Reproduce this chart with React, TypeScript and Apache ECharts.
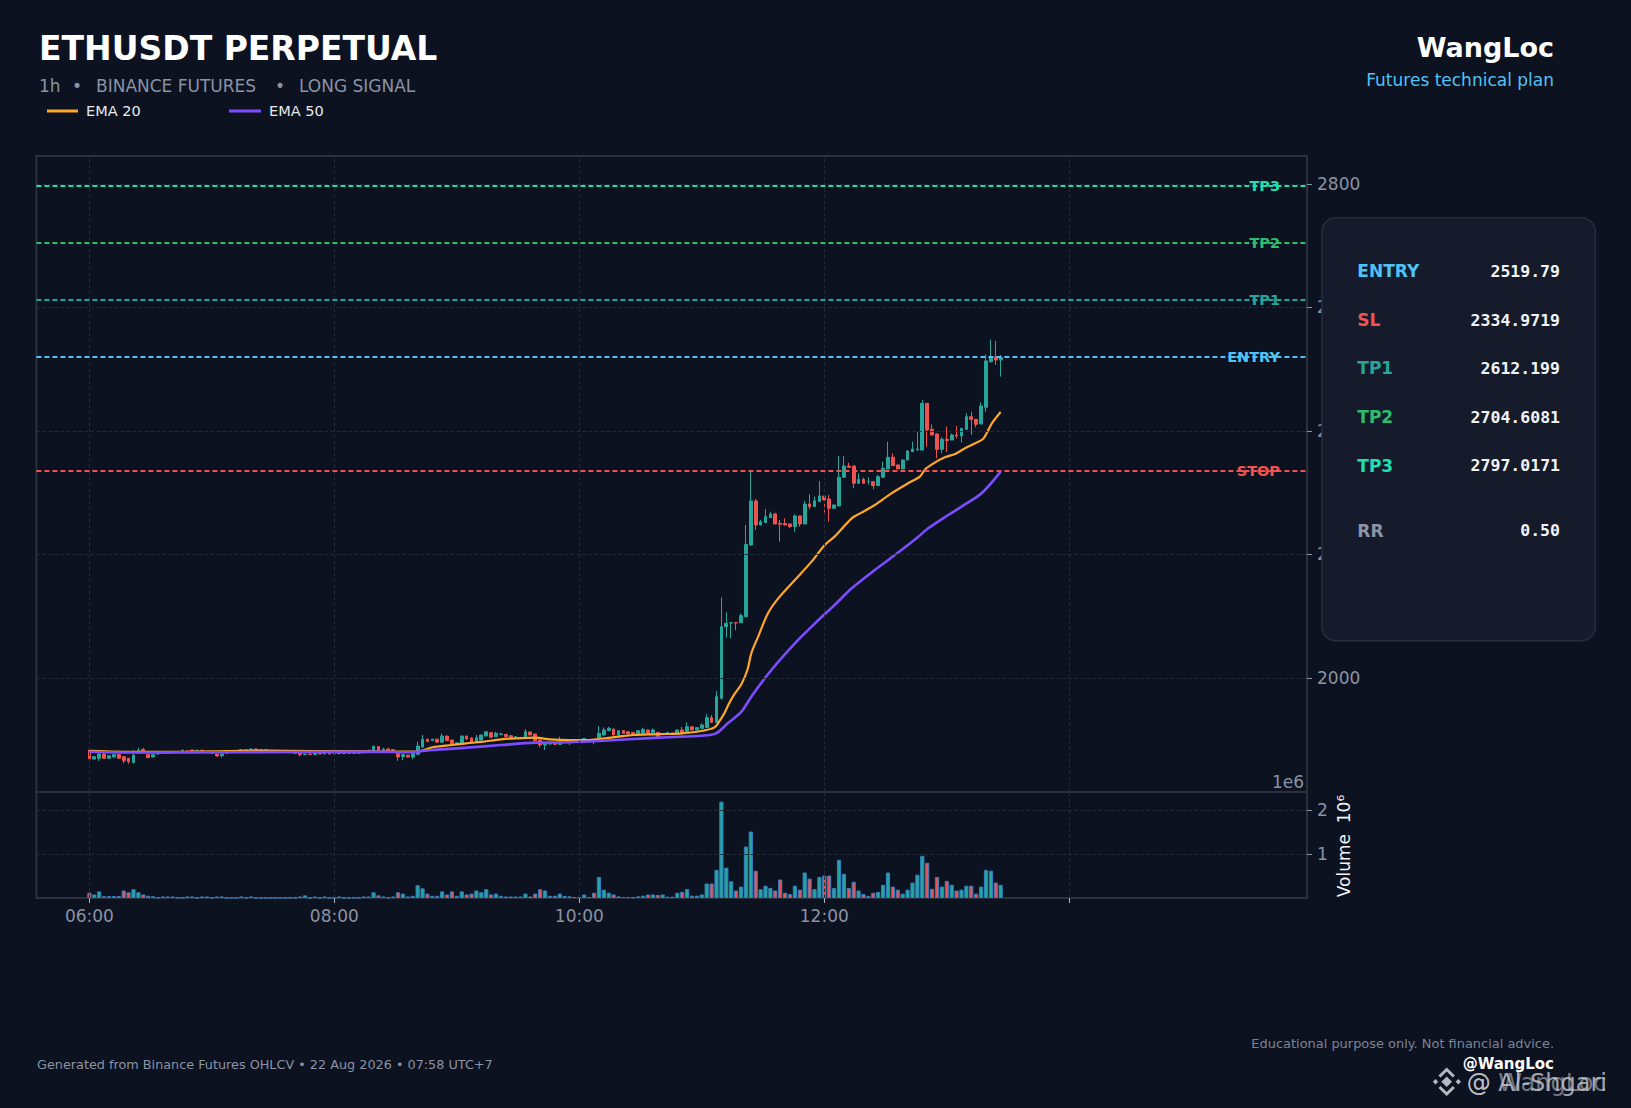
import React, { useEffect, useRef } from 'react';
import * as echarts from 'echarts';

// ---------- DATA ----------
// candles are 2.4 minutes apart starting at 06:00 (x axis in hours)
const START_HOUR = 6;
const STEP_HOURS = 0.04;

const opens = [
  1883.4, 1868.8, 1870, 1877, 1870, 1872, 1876, 1872.6, 1870, 1863,
  1878, 1884, 1876, 1872, 1877, 1879, 1878, 1879, 1880, 1880,
  1882, 1883.4, 1881, 1883, 1881, 1880, 1877, 1874, 1878, 1880,
  1881, 1882, 1884, 1883, 1885, 1883, 1884, 1882, 1883, 1881,
  1881, 1880, 1879, 1878, 1876, 1877, 1876, 1878, 1877, 1878,
  1877, 1878, 1877.5, 1878, 1879, 1878, 1879, 1881, 1883, 1889,
  1883, 1885, 1884, 1878, 1872.6, 1875, 1872, 1876.4, 1888, 1901,
  1898.5, 1901, 1896, 1906, 1899.6, 1893, 1894, 1906, 1903, 1897,
  1899.6, 1906, 1911.5, 1905, 1908.6, 1908.8, 1906.6, 1904.5, 1903.5, 1905,
  1912.6, 1909.4, 1899.6, 1891.5, 1893, 1895.3, 1892.6, 1898, 1897.5, 1897,
  1898.5, 1898.5, 1899.6, 1899.6, 1902.3, 1907.7, 1914.7, 1917.4, 1907.7, 1914.7,
  1913, 1912, 1909.4, 1910.4, 1915.8, 1911.5, 1912, 1908.5, 1911.6, 1910.6,
  1910.4, 1915.8, 1913, 1921, 1915.8, 1918.5, 1920, 1935.8, 1928.2, 1967.1,
  2083.1, 2089, 2089.6, 2089.6, 2099.3, 2215.4, 2286.7, 2247.8, 2251.6, 2259.7,
  2265.6, 2250.5, 2250.5, 2249.4, 2245.1, 2262.4, 2249.4, 2281.8, 2277.5, 2285.6,
  2294.7, 2289.9, 2274.8, 2278.6, 2325, 2343.3, 2343.3, 2315.3, 2321.7, 2318,
  2318, 2311.5, 2325, 2338.5, 2357.4, 2345, 2338.5, 2353, 2366.5, 2369.2,
  2369.2, 2444.8, 2402.7, 2395.1, 2370.3, 2386.5, 2385.4, 2393.5, 2391.9, 2402.7,
  2423.2, 2418.9, 2411.4, 2438.4, 2512, 2520, 2515,
];

const closes = [
  1868.8, 1872.6, 1877, 1870, 1874, 1876, 1870, 1866, 1864.5, 1875,
  1883, 1879, 1871, 1876, 1879, 1878, 1879, 1880, 1879, 1883,
  1881, 1880.7, 1883, 1881, 1880, 1878, 1873.7, 1877, 1880, 1881,
  1882, 1884, 1883, 1885, 1883, 1884, 1882, 1883, 1881, 1881.5,
  1880, 1879, 1878, 1876, 1877, 1876, 1878, 1877, 1878, 1877,
  1878, 1877.5, 1878, 1879, 1878, 1879, 1881, 1883, 1889, 1883,
  1885, 1883, 1883, 1872, 1876, 1872, 1878, 1889.9, 1901, 1897,
  1901, 1896, 1906, 1898.5, 1892.6, 1895, 1906, 1901, 1896, 1903.4,
  1907.7, 1913, 1904, 1910.4, 1909.4, 1905, 1902.3, 1905, 1903, 1913,
  1907.7, 1898.5, 1891.5, 1895.3, 1896, 1892.6, 1899.6, 1898.8, 1897, 1897.3,
  1898.2, 1902, 1899.9, 1897, 1910.4, 1915.8, 1918.5, 1907.7, 1914.7, 1910.4,
  1909.4, 1908.8, 1914.7, 1916.9, 1910.4, 1915.8, 1905, 1908.8, 1912, 1910.4,
  1915.8, 1911.5, 1921, 1915.8, 1919.6, 1924, 1935.8, 1928.2, 1969.8, 2083.1,
  2088.5, 2089.6, 2089.2, 2101, 2216.5, 2286.7, 2247.8, 2253.2, 2261.3, 2265.6,
  2249.4, 2248.9, 2247.8, 2245.1, 2262.4, 2249.4, 2281.8, 2277.5, 2287.2, 2294.7,
  2288.3, 2274.8, 2280.2, 2325, 2343.3, 2341.2, 2315.3, 2321.7, 2315.3, 2318.5,
  2311.5, 2326, 2339.6, 2357.4, 2343.9, 2338.5, 2353, 2367.6, 2370.9, 2370.9,
  2444.8, 2401.6, 2393.5, 2370.3, 2386.5, 2384.4, 2393.5, 2391.9, 2404.3, 2423.2,
  2418.9, 2410.8, 2440.5, 2513.4, 2520, 2515, 2519,
];

const highs = [
  1884, 1873.5, 1878, 1877.5, 1874.5, 1876.5, 1876.5, 1873, 1870.5, 1883,
  1887, 1887, 1876.5, 1876.5, 1880, 1879.5, 1879.5, 1880.5, 1880.5, 1884,
  1882.5, 1884, 1883.5, 1883.5, 1881.5, 1880.5, 1877.5, 1877.5, 1880.5, 1881.5,
  1882.5, 1884.5, 1884.5, 1886, 1885.5, 1884.5, 1884.5, 1883.5, 1883.5, 1882,
  1881.5, 1880.5, 1879.5, 1878.5, 1877.5, 1877.5, 1878.5, 1878.5, 1878.5, 1878.5,
  1878.5, 1878.5, 1878.5, 1879.5, 1879.5, 1879.5, 1881.5, 1883.5, 1891, 1889.5,
  1887, 1887, 1884.5, 1878.5, 1876.5, 1875.5, 1878.5, 1896.9, 1907.7, 1901.5,
  1901.5, 1901.5, 1910, 1906.5, 1900, 1895.5, 1906.5, 1906.5, 1903.5, 1907.7,
  1908, 1913.5, 1912, 1913, 1911.5, 1909.3, 1907, 1905.5, 1904, 1917.5,
  1913, 1909.8, 1900, 1895.8, 1896.5, 1895.8, 1905, 1899.3, 1898, 1897.8,
  1899, 1902.5, 1900.4, 1900, 1922.3, 1920, 1921, 1917.9, 1915.2, 1915.2,
  1913.5, 1912.5, 1915.2, 1919.6, 1916.3, 1918.5, 1912.5, 1909.3, 1912.5, 1911,
  1916.3, 1921, 1928.2, 1921.5, 1920.1, 1926.6, 1941.7, 1940, 1979, 2130.6,
  2106.4, 2091, 2090.5, 2104.7, 2247.8, 2336.9, 2290, 2256, 2273.7, 2269.4,
  2267.5, 2255.9, 2258.6, 2250, 2265, 2263, 2287.2, 2297.4, 2293.7, 2319,
  2295.5, 2296.4, 2281, 2359.5, 2359.5, 2348.7, 2344, 2331.5, 2324.5, 2325,
  2318.5, 2329, 2350.3, 2382.7, 2363.8, 2345.5, 2353.5, 2369.2, 2382.7, 2397.9,
  2450.2, 2445.3, 2410.8, 2395.6, 2390, 2407, 2396, 2408.1, 2404.8, 2428.6,
  2431.3, 2419.4, 2446.4, 2524, 2548, 2546, 2523,
];

const lows = [
  1868, 1868, 1866, 1869.5, 1869.5, 1871.5, 1869.5, 1862, 1861, 1862.5,
  1877.5, 1878.5, 1870.5, 1871.5, 1876, 1877.5, 1877.5, 1878.5, 1878.5, 1879.5,
  1880.5, 1880, 1880.5, 1880.5, 1879.5, 1877.5, 1873, 1871, 1877.5, 1879.5,
  1880.5, 1881.5, 1882.5, 1882.5, 1882.5, 1882.5, 1881.5, 1881.5, 1880.5, 1880.5,
  1879.5, 1878.5, 1877.5, 1873, 1875.5, 1875.5, 1875.5, 1876.5, 1876.5, 1876.5,
  1876.5, 1877, 1877, 1877.5, 1877.5, 1877.5, 1878.5, 1880.5, 1882.5, 1882.5,
  1882.5, 1882.5, 1882, 1866, 1867, 1871.5, 1869, 1876, 1887.5, 1896.5,
  1898, 1895.5, 1895.5, 1898, 1892, 1892.5, 1893.5, 1900.5, 1895.5, 1896.5,
  1899, 1905.5, 1903.5, 1904.5, 1908, 1904.5, 1901.8, 1904, 1902.5, 1904.5,
  1907.2, 1898, 1887.8, 1883.4, 1892.5, 1892.1, 1892.1, 1897.5, 1891.5, 1896.5,
  1897.7, 1898, 1899.1, 1892.6, 1901.8, 1907.2, 1914.2, 1907.2, 1907.2, 1909.9,
  1908.9, 1908.3, 1908.9, 1909.9, 1909.9, 1911, 1904.5, 1908, 1911.1, 1909.9,
  1909.9, 1911, 1912.5, 1915.3, 1915.3, 1918, 1919.5, 1927.7, 1927.7, 1965,
  2065.3, 2064.2, 2077.7, 2089, 2098, 2214, 2239.7, 2247, 2251, 2259,
  2249, 2220.8, 2247, 2243, 2237, 2245.1, 2249, 2273.2, 2277, 2285,
  2266.7, 2253.2, 2274, 2278, 2324.5, 2340.5, 2307.2, 2315, 2315, 2313,
  2305.5, 2311, 2324.5, 2338, 2343.5, 2338, 2338, 2352.5, 2366, 2368.7,
  2368.7, 2374.6, 2393, 2355.7, 2363.8, 2366, 2385, 2388, 2381.1, 2402.2,
  2393.5, 2406, 2411, 2431, 2511.5, 2507, 2488,
];

// volume in millions
const volumes = [
  0.12, 0.08, 0.15, 0.04, 0.045, 0.045, 0.045, 0.17, 0.13, 0.2,
  0.13, 0.08, 0.05, 0.04, 0.01, 0.035, 0.035, 0.035, 0.01, 0.005,
  0.035, 0.035, 0.005, 0.035, 0.035, 0.005, 0.035, 0.035, 0.005, 0.005,
  0.005, 0.035, 0.005, 0.035, 0.005, 0.005, 0.005, 0.005, 0.005, 0.005,
  0.005, 0.005, 0.005, 0.035, 0.06, 0.005, 0.035, 0.005, 0.035, 0.005,
  0.005, 0.035, 0.005, 0.005, 0.005, 0.005, 0.035, 0.035, 0.13, 0.06,
  0.035, 0.01, 0.035, 0.13, 0.1, 0.035, 0.05, 0.29, 0.22, 0.1,
  0.05, 0.05, 0.15, 0.08, 0.15, 0.05, 0.15, 0.08, 0.1, 0.17,
  0.13, 0.2, 0.08, 0.1, 0.05, 0.035, 0.035, 0.035, 0.035, 0.1,
  0.035, 0.1, 0.2, 0.17, 0.05, 0.05, 0.1, 0.045, 0.038, 0.023,
  0.023, 0.08, 0.023, 0.12, 0.48, 0.19, 0.12, 0.08, 0.038, 0.023,
  0.023, 0.015, 0.038, 0.053, 0.08, 0.08, 0.07, 0.08, 0.03, 0.03,
  0.12, 0.14, 0.2, 0.053, 0.053, 0.08, 0.33, 0.33, 0.64, 2.19,
  0.69, 0.38, 0.17, 0.26, 1.17, 1.51, 0.62, 0.2, 0.28, 0.23,
  0.17, 0.42, 0.12, 0.09, 0.28, 0.19, 0.58, 0.44, 0.2, 0.48,
  0.51, 0.51, 0.23, 0.87, 0.55, 0.23, 0.37, 0.17, 0.09, 0.05,
  0.12, 0.14, 0.3, 0.58, 0.26, 0.19, 0.1, 0.19, 0.35, 0.53,
  0.96, 0.8, 0.21, 0.48, 0.26, 0.39, 0.3, 0.17, 0.19, 0.28,
  0.28, 0.1, 0.26, 0.64, 0.62, 0.35, 0.3,
];

// EMA lines at candle positions (candle index, price)
const ema20Idx = [0, 7, 15, 25, 35, 46, 56, 64, 67, 70, 74, 77, 80, 84, 87, 91, 94, 98, 102, 104,
  108, 111, 115, 118, 121, 124, 125.5, 127.6, 128.5, 129.6, 130.5, 131.5, 133.1, 134.3, 135.1, 136.5,
  138.5, 140.6, 144, 147.4, 150.1, 152.1, 155.6, 157.6, 160.3, 163.7, 167.1, 169.5, 170.6, 172.3,
  174.6, 176.7, 178.7, 180.8, 182.5, 184.2, 186];
const ema20Val = [1882, 1880.5, 1880.3, 1881.3, 1882.5, 1881.8, 1881.3, 1880.7, 1881, 1887.8, 1891.5,
  1894.2, 1896.6, 1900.7, 1902.3, 1903.4, 1900.7, 1899.6, 1899.6, 1901.2, 1905, 1907.7, 1908.8, 1909.3,
  1910.4, 1913, 1915, 1920.1, 1929, 1943, 1958, 1972, 1990.3, 2013, 2040, 2067, 2104.7, 2129, 2158.8,
  2188.4, 2215.4, 2228.9, 2258.6, 2267.8, 2280.2, 2299.1, 2315.3, 2326, 2338, 2347.6, 2357.4, 2362.8,
  2372, 2380, 2388.1, 2412.4, 2430.8];
const ema50Idx = [0, 8, 20, 35, 50, 60, 64, 67, 70, 77, 84, 91, 98, 104, 111, 118, 125, 127.9, 130.3,
  133.1, 135.1, 139.2, 144, 148.1, 152.1, 155.6, 160.3, 164.4, 169.2, 171.2, 175.3, 178, 182.1, 186];
const ema50Val = [1880.5, 1879.3, 1879.5, 1880, 1880.3, 1880.5, 1879.7, 1880.7, 1883.4, 1887.2, 1891.5,
  1895.3, 1895.9, 1898, 1901.2, 1904, 1906.6, 1910.4, 1926.6, 1945.5, 1969.8, 2013, 2056.2, 2088.5,
  2118.2, 2145.2, 2174.9, 2199.2, 2228.9, 2242.4, 2264, 2277.5, 2299.1, 2334.2];

// trade plan levels
const levelNames = ['TP3', 'TP2', 'TP1', 'ENTRY', 'STOP'];
const levelValues = [2797.0171, 2704.6081, 2612.199, 2519.79, 2334.9719];
const levelColors = ['#1fdfb0', '#2cbd6e', '#26a69a', '#4fc3f7', '#ef5350'];

// info panel rows
const panelLabels = ['ENTRY', 'SL', 'TP1', 'TP2', 'TP3', 'RR'];
const panelValues = ['2519.79', '2334.9719', '2612.199', '2704.6081', '2797.0171', '0.50'];
const panelColors = ['#4fc3f7', '#ef5350', '#26a69a', '#2cbd6e', '#1fdfb0', '#8b93a5'];

// axis ticks
const priceTicks = [2000, 2200, 2400, 2600, 2800];
const volumeTicks = [1e6, 2e6];
const hourTicks = [6, 8, 10, 12, 14];
const hourLabels = [6, 8, 10, 12];

// ---------- STYLE ----------
const BG = '#0c1220';
const FONT = 'DejaVu Sans';
const MONO = 'DejaVu Sans Mono';
const GRAY = '#8b93a5';
const GRID_LINE = '#232a38';
const FRAME = '#2a303c';
const UP = '#26a69a';
const DOWN = '#ef5350';

const X_MIN = 5.5673;
const X_MAX = 15.941;

const xOf = (i: number) => START_HOUR + i * STEP_HOURS;

function txt(x: number, y: number, text: string, size: number, fill: string, weight = 'normal',
  align = 'left', family = FONT, extra: any = {}, opacity = 1) {
  return {
    type: 'text', x, y, z: 100, silent: true,
    style: { text, fill, fontSize: size, fontWeight: weight, fontFamily: family, align, verticalAlign: 'middle', opacity },
    ...extra,
  };
}

function buildOption() {
  const candleData = opens.map((o, i) => [xOf(i), o, closes[i], lows[i], highs[i]]);
  const volumeData = volumes.map((v, i) => ({
    value: [xOf(i), v * 1e6],
    itemStyle: { color: closes[i] >= opens[i] ? UP : DOWN },
  }));
  const ema20 = ema20Idx.map((k, j) => [xOf(k), ema20Val[j]]);
  const ema50 = ema50Idx.map((k, j) => [xOf(k), ema50Val[j]]);

  const gridLineStyle = { color: GRID_LINE, type: [3.5, 2.5], width: 1 };
  const mainGridMarks = [
    ...priceTicks.map((v) => ({ yAxis: v })),
    ...hourTicks.map((h) => ({ xAxis: h })),
  ];
  const volGridMarks = [
    ...volumeTicks.map((v) => ({ yAxis: v })),
    ...hourTicks.map((h) => ({ xAxis: h })),
  ];

  const levelMarks = levelNames.map((n, k) => ({
    yAxis: levelValues[k],
    lineStyle: { color: levelColors[k], type: [5, 3], width: 1.8 },
    label: {
      show: true, position: 'insideEnd', distance: 27, formatter: n, color: levelColors[k],
      fontFamily: FONT, fontWeight: 'bold', fontSize: 14.5,
    },
  }));

  const panelX = 1322, panelY = 217.7, panelW = 273.3, panelH = 423;
  const rowY = [271, 320, 368.3, 417, 465.7, 530.7];

  const graphic: any[] = [
    txt(39, 48.8, 'ETHUSDT PERPETUAL', 33, '#ffffff', 'bold'),
    txt(39, 86, '1h', 17, GRAY),
    txt(77, 86, '•', 17, GRAY, 'normal', 'center'),
    txt(96, 86, 'BINANCE FUTURES', 17, GRAY),
    txt(280, 86, '•', 17, GRAY, 'normal', 'center'),
    txt(299, 86, 'LONG SIGNAL', 17, GRAY),
    { type: 'line', z: 100, silent: true, shape: { x1: 47, y1: 111, x2: 78, y2: 111 }, style: { stroke: '#ffa726', lineWidth: 3 } },
    txt(86, 111, 'EMA 20', 14.5, '#e8eaed'),
    { type: 'line', z: 100, silent: true, shape: { x1: 229, y1: 111, x2: 261, y2: 111 }, style: { stroke: '#7c4dff', lineWidth: 3 } },
    txt(269, 111, 'EMA 50', 14.5, '#e8eaed'),
    txt(1554, 47, 'WangLoc', 27, '#ffffff', 'bold', 'right'),
    txt(1554, 80, 'Futures technical plan', 17, '#4fc3f7', 'normal', 'right'),
    {
      type: 'rect', z: 99, silent: true,
      shape: { x: panelX, y: panelY, width: panelW, height: panelH, r: 14 },
      style: { fill: '#151b2b', stroke: '#272e3c', lineWidth: 1.5 },
    },
    ...panelLabels.map((l, k) => txt(1357.3, rowY[k], l, 17, panelColors[k], 'bold')),
    ...panelValues.map((v, k) => txt(1560, rowY[k], v, 16.5, '#f1f3f6', 'bold', 'right', MONO)),
    txt(1304, 782, '1e6', 17, GRAY, 'normal', 'right'),
    txt(1344, 846, 'Volume  10⁶', 17, '#f1f3f6', 'normal', 'center', FONT, { rotation: Math.PI / 2 }),
    txt(37, 1064, 'Generated from Binance Futures OHLCV • 22 Aug 2026 • 07:58 UTC+7', 12.8, GRAY),
    txt(1554, 1043, 'Educational purpose only. Not financial advice.', 12.95, '#7c8494', 'normal', 'right'),
    txt(1554, 1063.5, '@WangLoc', 15, '#ffffff', 'bold', 'right'),
    // watermark (two overlapping labels, as in the reference)
    txt(1466.7, 1082.7, '@ Al-Shgari', 24, '#c9ced6', 'normal', 'left', FONT, {}, 0.8),
    txt(1466.7, 1082.7, '@ WangLoc', 24, '#c9ced6', 'normal', 'left', FONT, {}, 0.55),
    // binance-like logo
    { type: 'polygon', z: 100, silent: true, shape: { points: [[1446.7, 1076.5], [1452, 1081.7], [1446.7, 1087], [1441.4, 1081.7]] }, style: { fill: '#d4d8df', opacity: 0.85 } },
    { type: 'polygon', z: 100, silent: true, shape: { points: [[1435.5, 1079], [1438.2, 1081.7], [1435.5, 1084.4], [1432.8, 1081.7]] }, style: { fill: '#d4d8df', opacity: 0.85 } },
    { type: 'polygon', z: 100, silent: true, shape: { points: [[1458.3, 1079], [1461, 1081.7], [1458.3, 1084.4], [1455.6, 1081.7]] }, style: { fill: '#d4d8df', opacity: 0.85 } },
    { type: 'polyline', z: 100, silent: true, shape: { points: [[1439.5, 1076.5], [1446.7, 1069.5], [1453.9, 1076.5]] }, style: { stroke: '#d4d8df', lineWidth: 3, fill: null, opacity: 0.85 } },
    { type: 'polyline', z: 100, silent: true, shape: { points: [[1439.5, 1087], [1446.7, 1094], [1453.9, 1087]] }, style: { stroke: '#d4d8df', lineWidth: 3, fill: null, opacity: 0.85 } },
  ];

  return {
    animation: false,
    backgroundColor: BG,
    textStyle: { fontFamily: FONT },
    grid: [
      { left: 36.4, top: 156, width: 1270.6, height: 636, show: true, borderColor: FRAME, borderWidth: 2, backgroundColor: 'transparent' },
      { left: 36.4, top: 792, width: 1270.6, height: 106, show: true, borderColor: FRAME, borderWidth: 2, backgroundColor: 'transparent' },
    ],
    xAxis: [
      { type: 'value', gridIndex: 0, min: X_MIN, max: X_MAX, show: false },
      {
        type: 'value', gridIndex: 1, min: X_MIN, max: X_MAX,
        axisLine: { show: false },
        axisTick: { show: true, customValues: hourTicks, length: 5, lineStyle: { color: '#aeb4c0', width: 1 } },
        axisLabel: {
          customValues: hourLabels, color: GRAY, fontSize: 17, fontFamily: FONT, margin: 9,
          formatter: (v: number) => (v < 10 ? '0' : '') + v + ':00',
        },
        splitLine: { show: false },
      },
    ],
    yAxis: [
      {
        type: 'value', gridIndex: 0, position: 'right', min: 1815.4, max: 2845.3,
        axisLine: { show: false },
        axisTick: { show: true, customValues: priceTicks, length: 5, lineStyle: { color: GRAY } },
        axisLabel: {
          customValues: priceTicks, color: GRAY, fontSize: 17, fontFamily: FONT, margin: 10,
          formatter: (v: number) => String(Math.round(v)),
        },
        splitLine: { show: false },
      },
      {
        type: 'value', gridIndex: 1, position: 'right', min: 0, max: 2.41e6,
        axisLine: { show: false },
        axisTick: { show: true, customValues: volumeTicks, length: 5, lineStyle: { color: GRAY } },
        axisLabel: {
          customValues: volumeTicks, color: GRAY, fontSize: 17, fontFamily: FONT, margin: 10,
          formatter: (v: number) => String(Math.round(v / 1e6)),
        },
        splitLine: { show: false },
      },
    ],
    series: [
      {
        type: 'line', name: 'grid-main', xAxisIndex: 0, yAxisIndex: 0, data: [], z: 1, silent: true,
        markLine: { silent: true, symbol: ['none', 'none'], label: { show: false }, lineStyle: gridLineStyle, data: mainGridMarks, animation: false },
      },
      {
        type: 'line', name: 'grid-vol', xAxisIndex: 1, yAxisIndex: 1, data: [], z: 1, silent: true,
        markLine: { silent: true, symbol: ['none', 'none'], label: { show: false }, lineStyle: gridLineStyle, data: volGridMarks, animation: false },
      },
      {
        type: 'candlestick', name: 'ETHUSDT', xAxisIndex: 0, yAxisIndex: 0, z: 2,
        data: candleData, barWidth: 3.2,
        encode: { x: 0, y: [1, 2, 3, 4] },
        itemStyle: { color: UP, color0: DOWN, borderColor: UP, borderColor0: DOWN, borderWidth: 1 },
        markLine: { silent: true, symbol: ['none', 'none'], data: levelMarks, animation: false },
      },
      {
        type: 'line', name: 'EMA 20', xAxisIndex: 0, yAxisIndex: 0, z: 3, data: ema20,
        showSymbol: false, smooth: 0.3, lineStyle: { color: '#ffa726', width: 2.2 },
      },
      {
        type: 'line', name: 'EMA 50', xAxisIndex: 0, yAxisIndex: 0, z: 3, data: ema50,
        showSymbol: false, smooth: 0.3, lineStyle: { color: '#7c4dff', width: 2.6 },
      },
      {
        type: 'bar', name: 'Volume', xAxisIndex: 1, yAxisIndex: 1, z: 2, data: volumeData,
        barWidth: 4.2, itemStyle: { borderColor: '#2f80c4', borderWidth: 1 },
      },
    ],
    graphic,
  };
}

export default function App() {
  const ref = useRef<HTMLDivElement>(null);
  useEffect(() => {
    document.body.style.margin = '0';
    document.body.style.background = BG;
    document.body.style.overflow = 'hidden';
    const chart = echarts.init(ref.current!, null, { renderer: 'svg' });
    chart.setOption(buildOption() as any);
    return () => chart.dispose();
  }, []);
  return <div ref={ref} style={{ width: 1631, height: 1108, background: BG }} />;
}
